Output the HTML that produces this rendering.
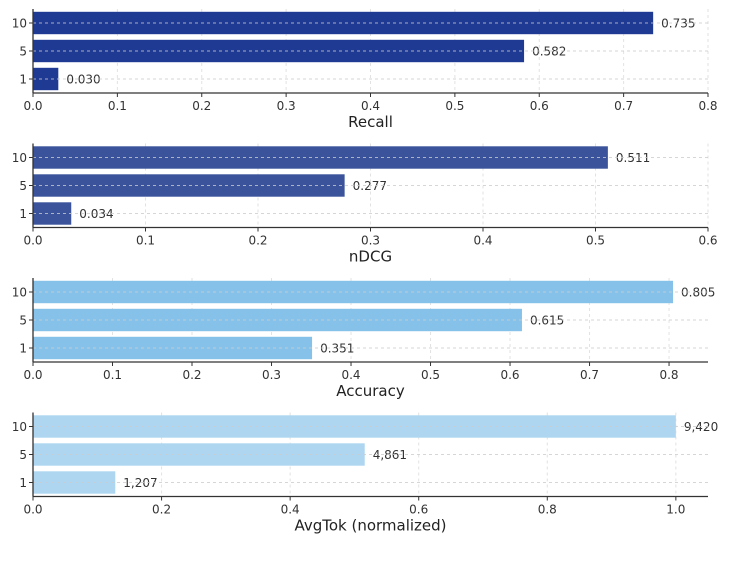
<!DOCTYPE html>
<html><head><meta charset="utf-8"><style>
html,body{margin:0;padding:0;background:#fff;}
svg{display:block;font-family:"DejaVu Sans","Liberation Sans",sans-serif;}
</style></head><body>
<svg id="chart" width="735" height="576" viewBox="0 0 735 576" xmlns="http://www.w3.org/2000/svg"></svg>
<script>
const categories = ["1","5","10"];
const recallValues = [0.030, 0.582, 0.735];
const recallLabels = ["0.030","0.582","0.735"];
const ndcgValues = [0.034, 0.277, 0.511];
const ndcgLabels = ["0.034","0.277","0.511"];
const accuracyValues = [0.351, 0.615, 0.805];
const accuracyLabels = ["0.351","0.615","0.805"];
const avgtokValues = [0.128, 0.516, 1.0];
const avgtokLabels = ["1,207","4,861","9,420"];
const recallTicks = [0,0.1,0.2,0.3,0.4,0.5,0.6,0.7,0.8];
const ndcgTicks = [0,0.1,0.2,0.3,0.4,0.5,0.6];
const accuracyTicks = [0,0.1,0.2,0.3,0.4,0.5,0.6,0.7,0.8];
const avgtokTicks = [0,0.2,0.4,0.6,0.8,1.0];

const panels = [
 {name:"recall", title:"Recall", vals:recallValues, labels:recallLabels, ticks:recallTicks, xmax:0.8, top:9, color:"#1f3a93"},
 {name:"ndcg", title:"nDCG", vals:ndcgValues, labels:ndcgLabels, ticks:ndcgTicks, xmax:0.6, top:143.5, color:"#3a539b"},
 {name:"accuracy", title:"Accuracy", vals:accuracyValues, labels:accuracyLabels, ticks:accuracyTicks, xmax:0.849, top:278, color:"#85c1e9"},
 {name:"avgtok", title:"AvgTok (normalized)", vals:avgtokValues, labels:avgtokLabels, ticks:avgtokTicks, xmax:1.05, top:412.5, color:"#aed6f1"}
];
const svg = document.getElementById('chart');
const NS = "http://www.w3.org/2000/svg";
function mk(tag, attrs, parent){const e=document.createElementNS(NS,tag);for(const k in attrs)e.setAttribute(k,attrs[k]);parent.appendChild(e);return e;}
const L=33, R=708, H=84;
panels.forEach(p=>{
  const g = mk('g',{},svg);
  
  
  const x = v => L + v/p.xmax*(R-L);
  const y = i => p.top + H - (i+0.5)*H/3;
  const bh = 0.8*H/3;
  p.ticks.forEach(t=>{
    const gl = mk('line',{x1:x(t),x2:x(t),y1:p.top,y2:p.top+H,stroke:"#e2e2e2","stroke-width":1,"stroke-dasharray":"3,3"},g);
    
    
  });
  p.vals.forEach((v,i)=>{
    const b = mk('rect',{x:L,y:y(i)-bh/2,width:x(v)-L,height:bh,fill:p.color},g);
    
    
    const t = mk('text',{x:x(v)+8,y:y(i)+4.5,"font-size":12,fill:"#333"},g);
    t.textContent = p.labels[i];
    
    
  });
  categories.forEach((c,i)=>{
    const gl = mk('line',{x1:L,x2:R,y1:y(i),y2:y(i),stroke:"#ccc","stroke-width":1,"stroke-dasharray":"3,3","stroke-opacity":0.8},g);
    
    
    mk('line',{x1:L-4,x2:L,y1:y(i),y2:y(i),stroke:"#333"},g);
    const t = mk('text',{x:L-6,y:y(i)+4.5,"font-size":12,fill:"#333","text-anchor":"end"},g);
    t.textContent = c;
    
    
  });
  const ya = mk('line',{x1:L,x2:L,y1:p.top,y2:p.top+H,stroke:"#333","stroke-width":1.3},g);
  
  
  const xa = mk('line',{x1:L,x2:R,y1:p.top+H,y2:p.top+H,stroke:"#333","stroke-width":1.3},g);
  
  
  p.ticks.forEach(t=>{
    mk('line',{x1:x(t),x2:x(t),y1:p.top+H,y2:p.top+H+4,stroke:"#333"},g);
    const tx = mk('text',{x:x(t),y:p.top+H+17,"font-size":12,fill:"#333","text-anchor":"middle"},g);
    tx.textContent = t.toFixed(1);
    
    
  });
  const ti = mk('text',{x:(L+R)/2,y:p.top+H+34,"font-size":15,fill:"#222","text-anchor":"middle"},g);
  ti.textContent = p.title;
  
  
});
</script>
</body></html>
